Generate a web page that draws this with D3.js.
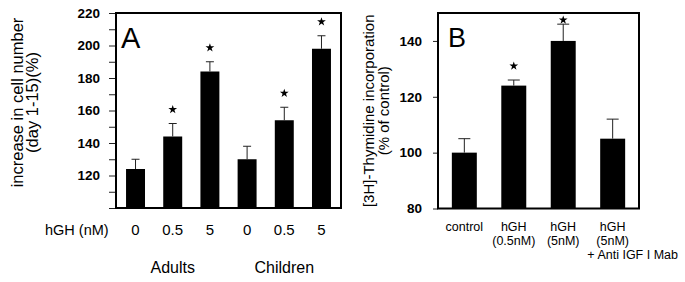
<!DOCTYPE html>
<html>
<head>
<meta charset="utf-8">
<script src="https://cdn.jsdelivr.net/npm/d3@7"></script>
<style>
    body { margin: 0; background: #fff; }
    svg { display: block; font-family: "Liberation Sans", Arial, Helvetica, sans-serif; }
    .tick-label { font-weight: bold; font-size: 13.5px; }
</style>
</head>
<body>
<div id="graph"></div>
<script>
const width = 685
const height = 282

// panel A: cell number
const doseLabelsA = ["0", "0.5", "5", "0", "0.5", "5"]
const groupsA = ["Adults", "Children"]
const valuesA = [124, 144, 184, 130, 154, 198]
const errorsA = [6, 8, 6, 8, 8, 8]
const starsA = [false, true, true, false, true, true]
const ticksA = [100, 110, 120, 130, 140, 150, 160, 170, 180, 190, 200, 210, 220]
const labelTicksA = [120, 140, 160, 180, 200, 220]

// panel B: thymidine incorporation
const labelLinesB = [["control"], ["hGH", "(0.5nM)"], ["hGH", "(5nM)"], ["hGH", "(5nM)", "+ Anti IGF I Mab"]]
const valuesB = [100, 124, 140, 105]
const errorsB = [5, 2, 6, 7]
const starsB = [false, true, true, false]
const ticksB = [80, 100, 120, 140]

const frameA = ({ left: 116, right: 341, top: 13, bottom: 208 })
const frameB = ({ left: 438, right: 639, top: 13, bottom: 208.5 })

const svg = d3.select("#graph")
    .append("svg")
    .attr("width", width)
    .attr("height", height)

const star = d3.symbol().type(d3.symbolStar).size(24)

function drawPanel(frame, values, errors, stars, domain, ticks, labelTicks, opts) {
    const n = values.length
    const x = d3.scaleBand()
        .domain(d3.range(n))
        .range([frame.left, frame.right])
        .paddingInner(opts.padIn)
        .paddingOuter(opts.padOut)
    const y = d3.scaleLinear()
        .domain(domain)
        .range([frame.bottom, frame.top])

    // ticks, left side, outside the box
    const axis = d3.axisLeft(y)
        .tickValues(ticks)
        .tickSize(opts.tickSize)
        .tickPadding(opts.tickPad)
        .tickFormat(d => labelTicks.includes(d) ? d : "")
    const g = svg.append("g")
        .attr("transform", `translate(${frame.left},0)`)
        .call(axis)
    g.select(".domain").remove()
    g.selectAll(".tick line").attr("stroke", "#222").attr("stroke-width", 1)
    g.selectAll(".tick text")
        .attr("class", "tick-label")
        .attr("fill", "#000")
        .style("font-family", "inherit")

    svg.append("g")
        .selectAll("rect")
        .data(values)
        .join("rect")
        .attr("x", (d, i) => x(i))
        .attr("width", x.bandwidth())
        .attr("y", d => y(d))
        .attr("height", d => y(domain[0]) - y(d))
        .attr("fill", "#000")

    // upper error whiskers
    const err = svg.append("g")
        .attr("stroke", "#222")
        .attr("stroke-width", 1)
    values.forEach((v, i) => {
        const cx = x(i) + x.bandwidth() / 2
        err.append("line")
            .attr("x1", cx).attr("x2", cx)
            .attr("y1", y(v)).attr("y2", y(v + errors[i]))
        err.append("line")
            .attr("x1", cx - opts.cap / 2).attr("x2", cx + opts.cap / 2)
            .attr("y1", y(v + errors[i])).attr("y2", y(v + errors[i]))
    })

    values.forEach((v, i) => {
        if (!stars[i]) return
        const cx = x(i) + x.bandwidth() / 2
        const sy = Math.max(y(v + errors[i]) - 14, frame.top + 7)
        svg.append("path")
            .attr("d", star)
            .attr("transform", `translate(${cx},${sy})`)
            .attr("fill", "#000")
    })

    svg.append("rect")
        .attr("x", frame.left)
        .attr("y", frame.top)
        .attr("width", frame.right - frame.left)
        .attr("height", frame.bottom - frame.top)
        .attr("fill", "none")
        .attr("stroke", "#000")
        .attr("stroke-width", 2)

    return x
}

// ---- A ----
const xA = drawPanel(frameA, valuesA, errorsA, starsA, [100, 220], ticksA, labelTicksA,
    { padIn: 0.49, padOut: 0.27, tickSize: 7, tickPad: 9, cap: 8 })
const centerA = i => xA(i) + xA.bandwidth() / 2

svg.append("text")
    .text("A")
    .attr("x", frameA.left + 5)
    .attr("y", 48)
    .style("font-size", "29px")

svg.append("text")
    .text("hGH (nM)")
    .attr("x", 45)
    .attr("y", 235)
    .style("font-size", "14.5px")
svg.append("g")
    .selectAll("text")
    .data(doseLabelsA)
    .join("text")
    .text(d => d)
    .attr("x", (d, i) => centerA(i))
    .attr("y", 235)
    .style("text-anchor", "middle")
    .style("font-size", "15px")
svg.append("g")
    .selectAll("text")
    .data(groupsA)
    .join("text")
    .text(d => d)
    .attr("x", (d, i) => d3.mean([0, 1, 2], k => centerA(i * 3 + k)))
    .attr("y", 273)
    .style("text-anchor", "middle")
    .style("font-size", "16px")

const yTitleA = svg.append("text")
    .attr("transform", `translate(0,${(frameA.top + frameA.bottom) / 2 - 8}) rotate(-90)`)
    .style("text-anchor", "middle")
    .style("font-size", "16.5px")
yTitleA.append("tspan").attr("x", 0).attr("y", 23).text("increase in cell number")
yTitleA.append("tspan").attr("x", 0).attr("y", 38).text("(day 1-15)(%)")

// ---- B ----
const xB = drawPanel(frameB, valuesB, errorsB, starsB, [80, 150], ticksB, ticksB,
    { padIn: 0.495, padOut: 0.28, tickSize: 5, tickPad: 11, cap: 12 })
const centerB = i => xB(i) + xB.bandwidth() / 2

svg.append("text")
    .text("B")
    .attr("x", frameB.left + 10)
    .attr("y", 47)
    .style("font-size", "27px")

labelLinesB.forEach((lines, i) => {
    const t = svg.append("text")
        .style("text-anchor", "middle")
        .style("font-size", "12.5px")
    lines.forEach((line, k) => {
        t.append("tspan")
            .attr("x", centerB(i) + (k == 2 ? 20 : 0))
            .attr("y", 231 + k * 14)
            .text(line)
    })
})

const yTitleB = svg.append("text")
    .attr("transform", `translate(0,${(frameB.top + frameB.bottom) / 2}) rotate(-90)`)
    .style("text-anchor", "middle")
    .style("font-size", "15px")
yTitleB.append("tspan").attr("x", 0).attr("y", 374).text("[3H]-Thymidine incorporation")
yTitleB.append("tspan").attr("x", 0).attr("y", 389).text("(% of control)")
</script>
</body>
</html>
